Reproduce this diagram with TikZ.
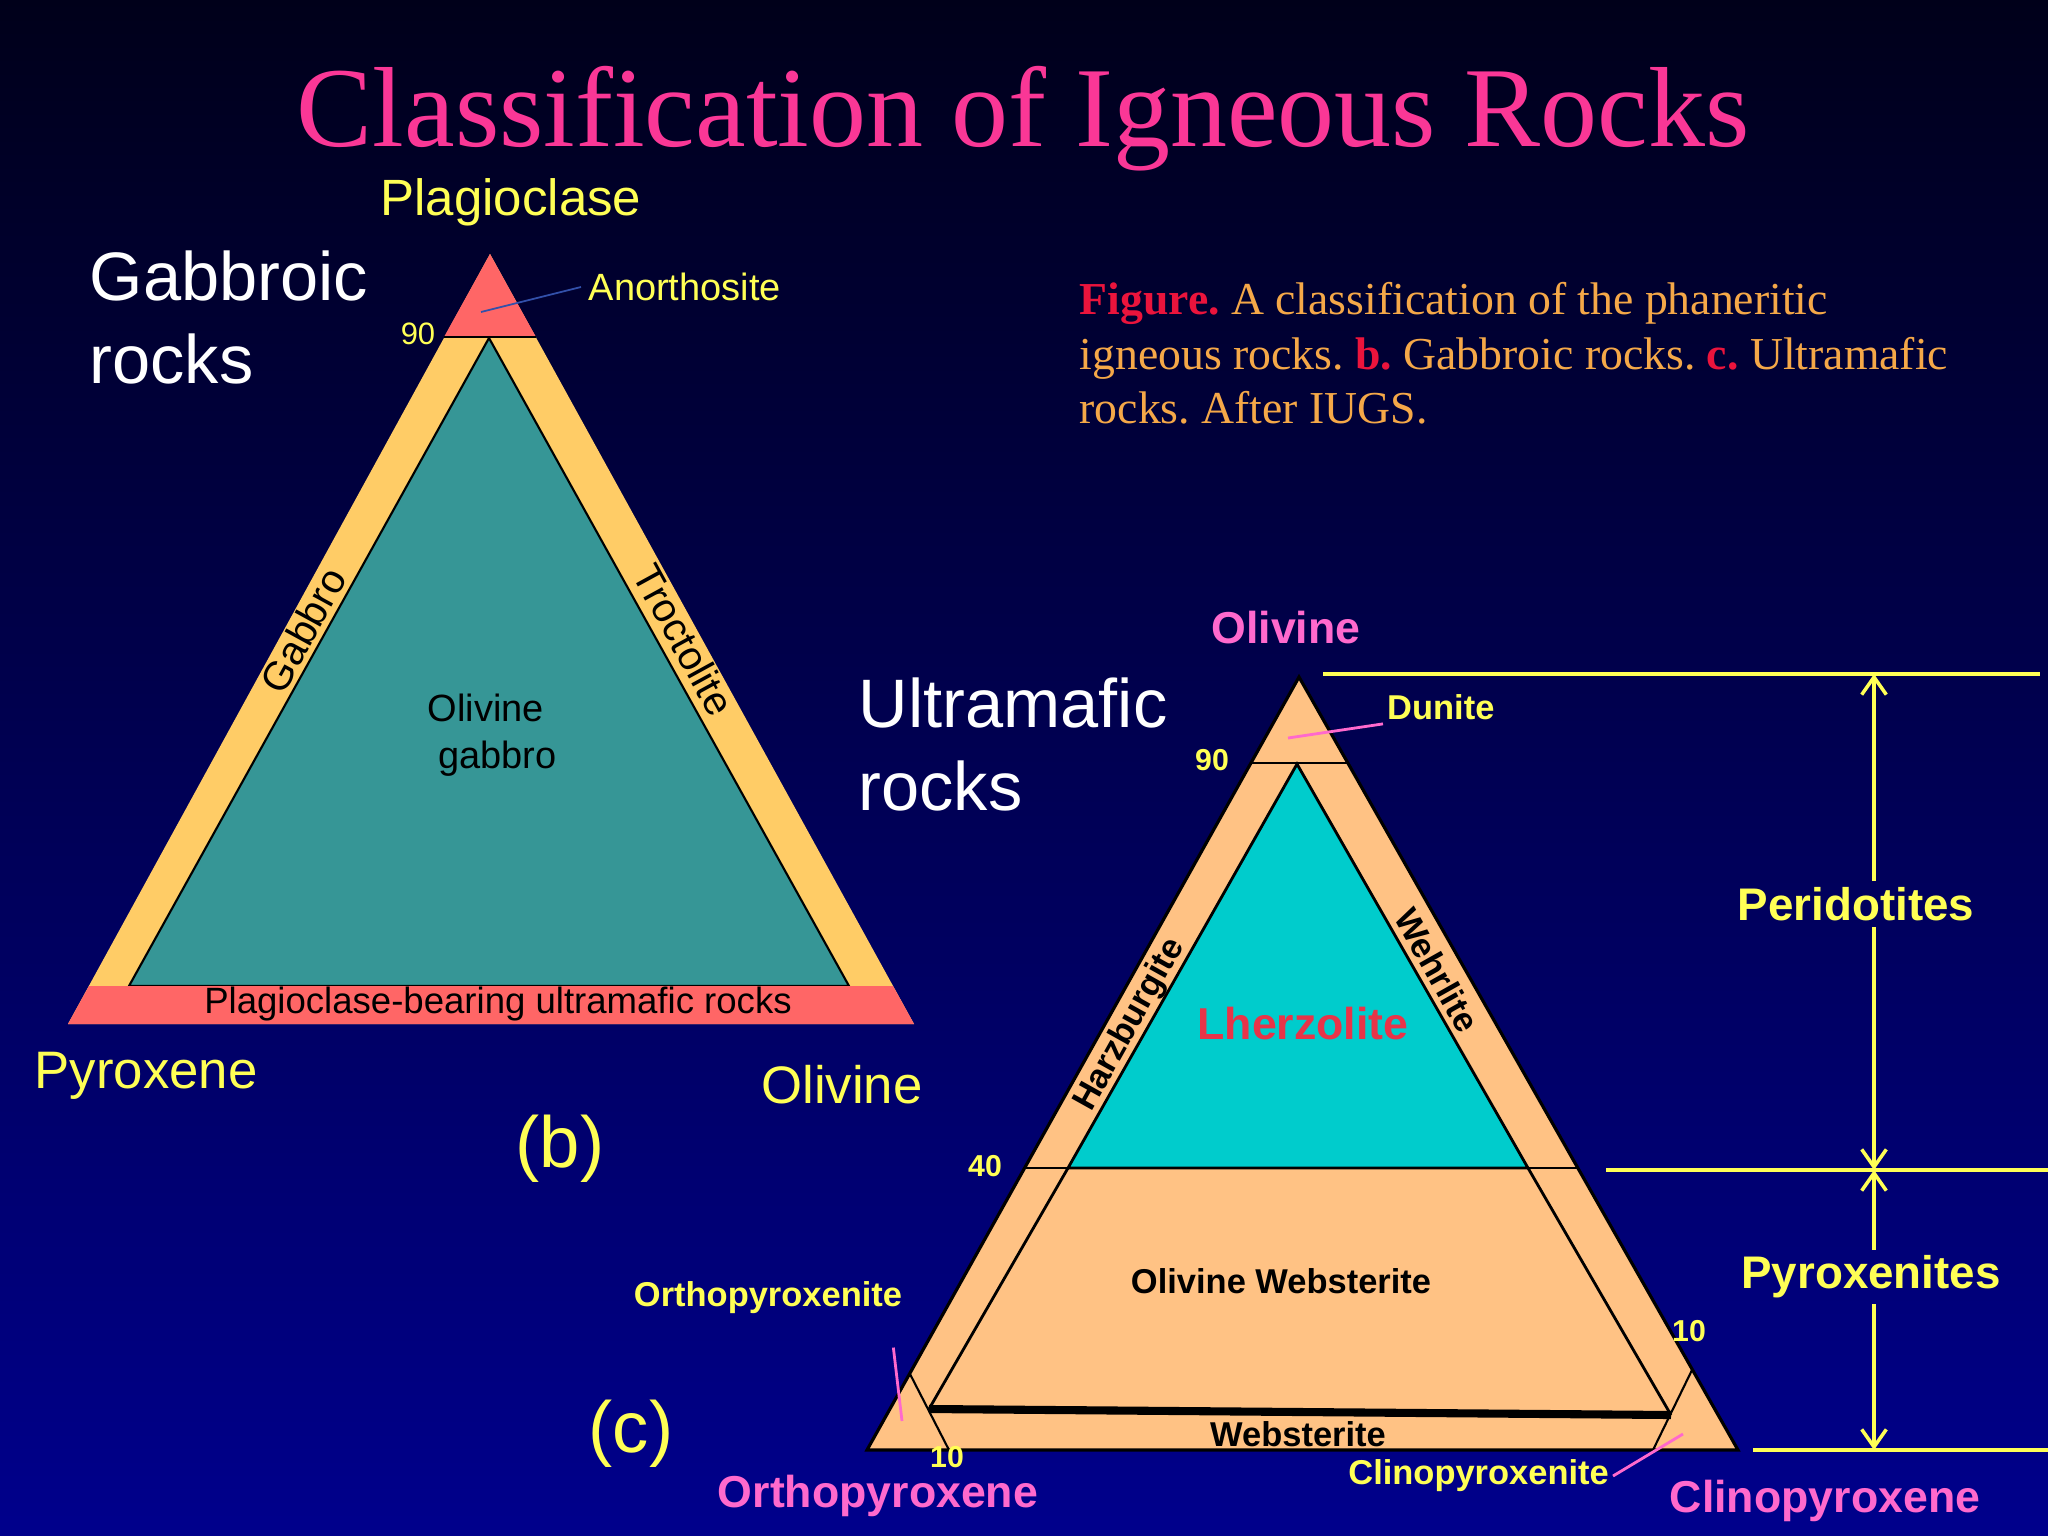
\documentclass[tikz,border=0pt]{standalone}
\usepackage{fontspec}
\setmainfont{Liberation Sans}
\newfontfamily\serifrm{Liberation Serif}
\usetikzlibrary{arrows.meta}

\definecolor{bgtop}{RGB}{0,0,26}
\definecolor{bgbot}{RGB}{0,0,140}
\definecolor{titlepink}{RGB}{250,55,150}
\definecolor{labyellow}{RGB}{255,255,85}
\definecolor{bandyellow}{RGB}{255,204,102}
\definecolor{bandred}{RGB}{255,102,102}
\definecolor{gabteal}{RGB}{54,150,150}
\definecolor{umpeach}{RGB}{255,194,132}
\definecolor{lhzcyan}{RGB}{0,204,204}
\definecolor{lhzred}{RGB}{232,52,72}
\definecolor{minpink}{RGB}{255,105,205}
\definecolor{capred}{RGB}{235,20,60}
\definecolor{caporange}{RGB}{245,168,72}
\definecolor{leadblue}{RGB}{50,80,170}

\tikzset{
  rocklbl/.style={text=white, align=left, anchor=base west, inner sep=0pt,
    font=\fontsize{19.5}{23.6}\selectfont},
  endlbl/.style={text=labyellow, font=\fontsize{15}{18}\selectfont},
  gablbl/.style={text=black, font=\fontsize{10.8}{13.4}\selectfont},
  umlbl/.style={text=black, font=\bfseries\fontsize{9.8}{12}\selectfont},
  numlbl/.style={text=labyellow, font=\fontsize{8.8}{10}\selectfont},
  umnum/.style={text=labyellow, font=\bfseries\fontsize{8.6}{10}\selectfont},
  yellbl/.style={text=labyellow, font=\bfseries\fontsize{9.8}{12}\selectfont},
  pinklbl/.style={text=minpink, font=\bfseries\fontsize{12.7}{15}\selectfont},
  grplbl/.style={text=labyellow, inner sep=1.5pt, font=\bfseries\fontsize{13}{15}\selectfont},
  lead/.style={minpink, line width=0.8pt},
  brk/.style={labyellow, line width=1pt},
  sep/.style={black, line width=0.8pt},
}

\begin{document}
\frenchspacing
\begin{tikzpicture}[x=0.01cm, y=-0.01cm]
  % background
  \shade[top color=bgtop, bottom color=bgbot] (0,0) rectangle (2048,1536);
  \useasboundingbox (0,0) rectangle (2048,1536);

  % title and caption
  \node[anchor=base, text=titlepink, font=\serifrm\fontsize{32.4}{36}\selectfont] (title) at (1023,146) {Classification of Igneous Rocks};
  \node[anchor=north west, align=left, inner sep=0pt, text=caporange, font=\serifrm\fontsize{13}{15.5}\selectfont] (caption) at (1079,282)
    {{\color{capred}\bfseries Figure.} A classification of the phaneritic\\
     igneous rocks. {\color{capred}\bfseries b.} Gabbroic rocks. {\color{capred}\bfseries c.} Ultramafic\\
     rocks. After IUGS.};

  % (b) gabbroic triangle
  \fill[bandyellow] (490,254) -- (68,1024) -- (914,1024) -- cycle;
  \fill[bandred] (490,254) -- (444,337) -- (536,337) -- cycle;
  \draw[sep] (444,337) -- (536,337);
  \filldraw[fill=gabteal, draw=black, line width=0.6pt] (489,338) -- (129,986) -- (849,986) -- cycle;
  \fill[bandred] (89,986) -- (68,1024) -- (914,1024) -- (893,986) -- cycle;

  \node[endlbl, font=\fontsize{14.5}{17}\selectfont] (plag) at (511,202) {Plagioclase};
  \node[rocklbl] (gabbroic) at (89,383) {Gabbroic\\rocks};
  \node[text=labyellow, font=\fontsize{10.8}{13}\selectfont, anchor=west, inner sep=2pt] (anor) at (581,287) {Anorthosite};
  \coordinate (anorpt) at (481,312);
  \draw[leadblue, line width=0.5pt] (anor.west) -- (anorpt);
  \node[numlbl] (n90b) at (418,334) {90};
  \node[gablbl, font=\fontsize{11.5}{13}\selectfont, rotate=61.3] (gabbro) at (303,630) {Gabbro};
  \node[gablbl, font=\fontsize{11.5}{13}\selectfont, rotate=-61.3] (troct) at (684,640) {Troctolite};
  \node[gablbl, align=center] (olgab) at (486,735) {Olivine\\\hspace*{0.6em}gabbro};
  \node[gablbl, font=\fontsize{10.4}{13}\selectfont] (plagum) at (498,1004) {Plagioclase-bearing ultramafic rocks};
  \node[endlbl] (pyxb) at (146,1076) {Pyroxene};
  \node[endlbl] (olb) at (842,1085) {Olivine};
  \node[endlbl, font=\fontsize{20.6}{24}\selectfont] (labb) at (560,1149) {(b)};

  % (c) ultramafic triangle
  \filldraw[fill=umpeach, draw=black, line width=0.9pt] (1299,677) -- (867,1450) -- (1738,1450) -- cycle;
  \draw[sep] (1251,763) -- (1348,763);
  \filldraw[fill=lhzcyan, draw=black, line width=0.8pt] (1297,764) -- (1068,1168) -- (1528,1168) -- cycle;
  \draw[sep] (1025,1168) -- (1578,1168);
  \draw[sep] (1068,1168) -- (929,1409);
  \draw[sep] (1528,1168) -- (1671,1415);
  \draw[black, line width=2.3pt] (929,1409) -- (1671,1415);
  \draw[sep, line width=0.6pt] (910,1374) -- (949,1450);
  \draw[sep, line width=0.6pt] (1692,1370) -- (1653,1450);

  \node[rocklbl] (ultra) at (858,810) {Ultramafic\\rocks};
  \node[pinklbl] (olc) at (1286,628) {Olivine};
  \node[yellbl, anchor=west, inner sep=1pt] (dun) at (1383,707) {Dunite};
  \coordinate (dunpt) at (1288,738);
  \draw[lead] (dun.south west) -- (dunpt);
  \node[umnum] (n90c) at (1212,760) {90};
  \node[umnum] (n40c) at (985,1166) {40};
  \node[umnum] (n10r) at (1689,1331) {10};
  \node[umnum] (n10b) at (947,1457) {10};
  \node[umlbl, rotate=60.8] (harz) at (1130,1025) {Harzburgite};
  \node[umlbl, rotate=-60.6] (wehr) at (1437,970) {Wehrlite};
  \node[text=lhzred, font=\bfseries\fontsize{12.7}{15}\selectfont] (lherz) at (1303,1024) {Lherzolite};
  \node[umlbl] (olweb) at (1281,1281) {Olivine Websterite};
  \node[umlbl] (web) at (1298,1434) {Websterite};
  \node[yellbl] (opxite) at (768,1298) {Orthopyroxenite};
  \coordinate (opxpt) at (902,1421);
  \draw[lead] ([xshift=-6pt, yshift=-6pt]opxite.south east) -- (opxpt);
  \node[yellbl, anchor=east, inner sep=1pt] (cpxite) at (1613,1476) {Clinopyroxenite};
  \coordinate (cpxpt) at (1683,1434);
  \draw[lead] (cpxite.east) -- (cpxpt);
  \node[pinklbl] (opx) at (878,1496) {Orthopyroxene};
  \node[pinklbl] (cpx) at (1825,1501) {Clinopyroxene};
  \node[endlbl, font=\fontsize{20.6}{24}\selectfont] (labc) at (631,1434) {(c)};

  % peridotite / pyroxenite brackets
  \draw[brk] (1323,674) -- (2040,674);
  \draw[brk] (1606,1170) -- (2048,1170);
  \draw[brk] (1753,1450) -- (2048,1450);
  \coordinate (ptop) at (1874,674);
  \coordinate (pmid) at (1874,1170);
  \coordinate (pbot) at (1874,1450);
  \node[grplbl] (perid) at (1856,904) {Peridotites};
  \node[grplbl] (pyxite) at (1871,1277) {Pyroxenites};
  \draw[brk, -{Straight Barb[length=5pt, width=7pt]}] (perid.north -| ptop) -- (ptop);
  \draw[brk, -{Straight Barb[length=5pt, width=7pt]}] (perid.south -| pmid) -- (pmid);
  \draw[brk, -{Straight Barb[length=5pt, width=7pt]}] (pyxite.north -| pmid) -- (pmid);
  \draw[brk, -{Straight Barb[length=5pt, width=7pt]}] (pyxite.south -| pbot) -- (pbot);
\end{tikzpicture}
\end{document}
